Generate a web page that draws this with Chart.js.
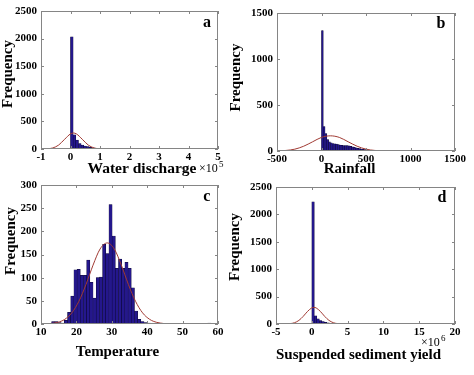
<!DOCTYPE html>
<html><head><meta charset="utf-8">
<script src="https://cdn.jsdelivr.net/npm/chart.js@4.4.1/dist/chart.umd.min.js"></script>
<style>
html,body{margin:0;padding:0;background:#fff;width:474px;height:375px;overflow:hidden;position:relative}
canvas{position:absolute}
</style></head><body>
<canvas id="ca" width="237" height="185" style="left:0;top:0"></canvas>
<canvas id="cb" width="252" height="185" style="left:222px;top:0"></canvas>
<canvas id="cc" width="237" height="195" style="left:0;top:180px"></canvas>
<canvas id="cd" width="252" height="195" style="left:222px;top:180px"></canvas>
<script>
// ---------- data ----------
// (a) Water discharge (x10^5)
const waterBins = [0.045, 0.135, 0.225, 0.315, 0.405, 0.495, 0.585, 0.675, 0.765, 0.855, 0.945, 1.035, 1.125, 1.215, 1.305, 1.395, 1.485, 1.575, 1.665, 1.755];
const waterFreq = [2030, 255, 160, 100, 72, 55, 42, 32, 22, 14, 9, 6, 4, 3, 2, 2, 1, 1, 1, 1];
const waterFitX = [-0.95, -0.8, -0.6, -0.4, -0.2, 0, 0.1, 0.2, 0.4, 0.6, 0.8, 1.0, 1.15];
const waterFitY = [1, 3, 19, 72, 176, 274, 290, 274, 176, 72, 19, 3, 1];
const waterXTicks = [-1, 0, 1, 2, 3, 4, 5];
const waterYTicks = [0, 500, 1000, 1500, 2000, 2500];

// (b) Rainfall
const rainBins = [10, 30, 50, 70, 90, 110, 130, 150, 170, 190, 210, 230, 250, 270, 290, 310, 330, 350, 370, 390, 410, 430, 450, 470, 490, 510, 530, 550, 570, 590, 610, 630, 650, 670, 690];
const rainFreq = [1310, 265, 190, 125, 100, 88, 82, 78, 75, 70, 65, 62, 60, 58, 60, 55, 50, 45, 40, 35, 30, 26, 22, 18, 15, 12, 9, 7, 5, 4, 3, 2, 2, 1, 1];
const rainFitX = [-500, -400, -300, -200, -100, 0, 100, 200, 300, 400, 500, 600, 700];
const rainFitY = [1, 6, 20, 52, 100, 148, 165, 148, 100, 52, 20, 6, 1];
const rainXTicks = [-500, 0, 500, 1000, 1500];
const rainYTicks = [0, 500, 1000, 1500];

// (c) Temperature
const tempBins = [13.45, 14.35, 15.25, 16.15, 17.05, 17.95, 18.85, 19.75, 20.65, 21.55, 22.45, 23.35, 24.25, 25.15, 26.05, 26.95, 27.85, 28.75, 29.65, 30.55, 31.45, 32.35, 33.25, 34.15, 35.05, 35.95, 36.85, 37.75, 38.65, 39.55, 40.45, 41.35, 42.25, 57.55];
const tempFreq = [5, 5, 3, 2, 8, 25, 60, 117, 118, 105, 105, 138, 90, 56, 100, 101, 172, 152, 258, 190, 120, 140, 120, 133, 120, 78, 28, 10, 5, 3, 2, 1, 1, 2];
const tempFitX = [12.7, 14.7, 16.7, 18.7, 20.7, 22.7, 24.7, 26.7, 28.7, 30.7, 32.7, 34.7, 36.7, 38.7, 40.7, 42.7, 44.7];
const tempFitY = [1, 3.5, 10, 24, 49, 85, 127, 162, 175, 162, 127, 85, 49, 24, 10, 3.5, 1];
const tempXTicks = [10, 20, 30, 40, 50, 60];
const tempYTicks = [0, 50, 100, 150, 200, 250, 300];

// (d) Suspended sediment yield (x10^6)
const sedBins = [0.175, 0.525, 0.875, 1.225, 1.575, 1.925, 2.275, 2.625, 2.975, 3.325, 3.675, 4.025, 4.375, 4.725, 5.075];
const sedFreq = [2230, 150, 95, 62, 42, 30, 20, 14, 9, 6, 4, 3, 2, 2, 1];
const sedFitX = [-3.6, -3, -2.4, -1.8, -1.2, -0.6, 0, 0.3, 0.6, 1.2, 1.8, 2.4, 3, 3.6, 4.2];
const sedFitY = [1.5, 7, 24, 66, 139, 229, 294, 303, 294, 229, 139, 66, 24, 7, 1.5];
const sedXTicks = [-5, 0, 5, 10, 15, 20];
const sedYTicks = [0, 500, 1000, 1500, 2000, 2500];

// ---------- styling ----------
const BAR = '#24178c', EDGE = '#0a0630', CURVE = '#a03a33', FRAME = '#858585';
const SERIF = '"Liberation Serif", "Times New Roman", serif';
const TICKFONT = {family: SERIF, size: 11, weight: 'bold'};

const framePlugin = {
  id: 'frame',
  afterDatasetsDraw(chart) {
    const {ctx, chartArea: a, scales: {x, y}} = chart;
    ctx.save();
    ctx.strokeStyle = FRAME; ctx.lineWidth = 1;
    ctx.strokeRect(Math.round(a.left) + 0.5, Math.round(a.top) + 0.5, Math.round(a.right - a.left) - 1, Math.round(a.bottom - a.top) - 1);
    const L = 3;
    ctx.beginPath();
    x.ticks.forEach(t => {
      const p = Math.round(x.getPixelForValue(t.value)) + 0.5;
      ctx.moveTo(p, a.bottom); ctx.lineTo(p, a.bottom - L);
      ctx.moveTo(p, a.top); ctx.lineTo(p, a.top + L);
    });
    y.ticks.forEach(t => {
      const p = Math.round(y.getPixelForValue(t.value)) + 0.5;
      ctx.moveTo(a.left, p); ctx.lineTo(a.left + L, p);
      ctx.moveTo(a.right, p); ctx.lineTo(a.right - L, p);
    });
    ctx.stroke();
    ctx.restore();
  }
};

const textPlugin = {
  id: 'panelText',
  afterDraw(chart, args, opts) {
    const ctx = chart.ctx;
    (opts.items || []).forEach(it => {
      ctx.save();
      ctx.fillStyle = '#000';
      ctx.font = it.font;
      ctx.textAlign = it.align || 'center';
      ctx.textBaseline = it.baseline || 'middle';
      ctx.translate(it.x, it.y);
      if (it.rotate) ctx.rotate(-Math.PI / 2);
      ctx.fillText(it.text, 0, 0);
      ctx.restore();
    });
  }
};

function makeChart(id, c) {
  const canvas = document.getElementById(id);
  return new Chart(canvas, {
    type: 'bar',
    data: {
      datasets: [
        { type: 'line', data: c.fitX.map((v, i) => ({x: v, y: c.fitY[i]})), borderColor: CURVE, borderWidth: 1,
          pointRadius: 0, cubicInterpolationMode: 'monotone', fill: false, order: 0 },
        { type: 'bar', data: c.bins.map((v, i) => ({x: v, y: c.freq[i]})), backgroundColor: BAR, borderColor: EDGE,
          borderWidth: 0.5, barPercentage: 1, categoryPercentage: 1, order: 1 }
      ]
    },
    options: {
      responsive: false, animation: false, devicePixelRatio: 1,
      layout: {padding: {left: 0, top: c.top, right: c.right, bottom: 0}},
      plugins: {legend: {display: false}, tooltip: {enabled: false}, panelText: {items: c.texts}},
      scales: {
        x: {
          type: 'linear', position: 'bottom', min: c.xTicks[0], max: c.xTicks[c.xTicks.length - 1], offset: false,
          grid: {display: false, drawTicks: false}, border: {display: false},
          ticks: {font: TICKFONT, color: '#000', padding: 2, autoSkip: false, maxRotation: 0, callback: v => String(v)},
          afterBuildTicks: s => { s.ticks = c.xTicks.map(v => ({value: v})); },
          afterFit: s => { s.height = c.xH; s.paddingLeft = 0; s.paddingRight = 0; }
        },
        y: {
          type: 'linear', position: 'left', min: 0, max: c.yTicks[c.yTicks.length - 1],
          grid: {display: false, drawTicks: false}, border: {display: false},
          ticks: {font: TICKFONT, color: '#000', padding: 4, autoSkip: false, callback: v => String(v)},
          afterBuildTicks: s => { s.ticks = c.yTicks.map(v => ({value: v})); },
          afterFit: s => { s.width = c.yW; s.paddingTop = 0; s.paddingBottom = 0; }
        }
      }
    },
    plugins: [framePlugin, textPlugin]
  });
}

const TITLE = 'bold 15px ' + SERIF;
const LETTER = 'bold 16px ' + SERIF;
const EXP = '12px ' + SERIF;
const EXPS = '9px ' + SERIF;

makeChart('ca', {
  bins: waterBins, freq: waterFreq, fitX: waterFitX, fitY: waterFitY, xTicks: waterXTicks, yTicks: waterYTicks,
  yW: 41, xH: 36, top: 11, right: 19,
  texts: [
    {text: 'Frequency', x: 8.5, y: 74, font: TITLE, rotate: true},
    {text: 'Water discharge', x: 142, y: 168.5, font: 'bold 15.5px ' + SERIF},
    {text: 'a', x: 207, y: 23, font: LETTER},
    {text: '×10', x: 199, y: 172, font: EXP, align: 'left', baseline: 'alphabetic'},
    {text: '5', x: 219, y: 167, font: EXPS, align: 'left', baseline: 'alphabetic'}
  ]
});
makeChart('cb', {
  bins: rainBins, freq: rainFreq, fitX: rainFitX, fitY: rainFitY, xTicks: rainXTicks, yTicks: rainYTicks,
  yW: 55, xH: 34, top: 13, right: 19,
  texts: [
    {text: 'Frequency', x: 14, y: 77.5, font: TITLE, rotate: true},
    {text: 'Rainfall', x: 127.5, y: 169, font: TITLE},
    {text: 'b', x: 219, y: 24, font: LETTER}
  ]
});
makeChart('cc', {
  bins: tempBins, freq: tempFreq, fitX: tempFitX, fitY: tempFitY, xTicks: tempXTicks, yTicks: tempYTicks,
  yW: 41, xH: 51, top: 5, right: 19,
  texts: [
    {text: 'Frequency', x: 11, y: 61, font: TITLE, rotate: true},
    {text: 'Temperature', x: 117.5, y: 172.5, font: TITLE},
    {text: 'c', x: 206.7, y: 16.7, font: LETTER}
  ]
});
makeChart('cd', {
  bins: sedBins, freq: sedFreq, fitX: sedFitX, fitY: sedFitY, xTicks: sedXTicks, yTicks: sedYTicks,
  yW: 54, xH: 51, top: 7, right: 19,
  texts: [
    {text: 'Frequency', x: 13.5, y: 67, font: TITLE, rotate: true},
    {text: 'Suspended sediment yield', x: 136.5, y: 175.5, font: TITLE},
    {text: 'd', x: 220, y: 18, font: LETTER},
    {text: '×10', x: 199, y: 166, font: EXP, align: 'left', baseline: 'alphabetic'},
    {text: '6', x: 219, y: 161, font: EXPS, align: 'left', baseline: 'alphabetic'}
  ]
});
</script>
</body></html>
